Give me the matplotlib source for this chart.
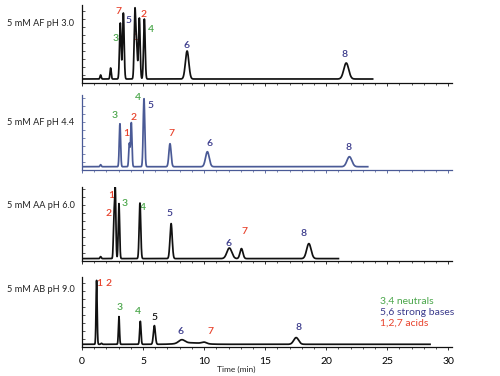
import numpy as np
import matplotlib.pyplot as plt
from matplotlib.ticker import MultipleLocator

# Peak data (time in min, height in px above baseline)
# 5 mM AF pH 3.0
t_ph30 = [1.53, 2.35, 3.14, 3.39, 4.34, 4.48, 4.70, 5.11, 8.61, 21.64]
h_ph30 = [4, 11, 56, 66, 69, 31, 61, 60, 28, 16]
w_ph30 = [0.05, 0.05, 0.065, 0.065, 0.065, 0.06, 0.065, 0.065, 0.14, 0.2]
# 5 mM AF pH 4.4
t_ph44 = [1.53, 3.11, 3.88, 4.04, 5.08, 7.21, 10.27, 21.9]
h_ph44 = [2, 43, 23, 44, 68, 23, 15, 10]
w_ph44 = [0.05, 0.055, 0.05, 0.055, 0.065, 0.09, 0.15, 0.2]
# 5 mM AA pH 6.0
t_ph60 = [1.53, 2.62, 2.73, 3.03, 4.75, 7.30, 12.07, 13.06, 18.58]
h_ph60 = [2, 40, 67.6, 55, 55.6, 35, 10.6, 10, 15]
w_ph60 = [0.05, 0.05, 0.05, 0.055, 0.065, 0.09, 0.2, 0.12, 0.18]
# 5 mM AB pH 9.0 (last entry: tailing hump after peak 6)
t_ph90 = [1.2, 1.6, 3.03, 4.78, 5.93, 8.17, 10.0, 17.54, 8.9]
h_ph90 = [64, 1, 27.7, 23, 18.7, 3.5, 1.5, 6.7, 1.5]
w_ph90 = [0.045, 0.05, 0.045, 0.055, 0.08, 0.25, 0.2, 0.2, 0.9]

t_end = [23.8, 23.4, 21.0, 28.5]
titles = ["5 mM AF pH 3.0", "5 mM AF pH 4.4", "5 mM AA pH 6.0", "5 mM AB pH 9.0"]

# peak number labels: (text, class, time, height above axis)
labels_ph30 = [("7", "a", 3.0, 72), ("5", "b", 3.8, 63), ("3", "n", 2.79, 45),
               ("1", "a", 4.34, 46), ("2", "a", 5.03, 69), ("4", "n", 5.66, 54),
               ("6", "b", 8.6, 38), ("8", "b", 21.5, 29)]
labels_ph44 = [("3", "n", 2.7, 55), ("1", "a", 3.66, 37), ("2", "a", 4.2, 52),
               ("4", "n", 4.56, 72), ("5", "b", 5.63, 65), ("7", "a", 7.3, 37),
               ("6", "b", 10.43, 27), ("8", "b", 21.86, 23)]
labels_ph60 = [("1", "a", 2.38, 66), ("2", "a", 2.16, 48), ("3", "n", 3.52, 57),
               ("4", "n", 4.97, 54), ("5", "b", 7.16, 48), ("6", "b", 11.97, 18),
               ("7", "a", 13.28, 29), ("8", "b", 18.17, 27)]
labels_ph90 = [("1", "a", 1.42, 63), ("2", "a", 2.21, 63), ("3", "n", 3.06, 39),
               ("4", "n", 4.62, 36), ("5", "k", 5.9, 29), ("6", "b", 8.06, 16),
               ("7", "a", 10.5, 16), ("8", "b", 17.73, 20)]

legend_lines = [("3,4 neutrals", "n"), ("5,6 strong bases", "b"), ("1,2,7 acids", "a")]

colors = {"a": "#e8432d", "b": "#3b3b8c", "n": "#4aa64a", "k": "#111111"}
trace_colors = ["#111111", "#4a5a96", "#111111", "#111111"]

# panel boxes in pixels: (top, bottom), baseline offset above the axis
W, H = 500, 376
boxes = [(5, 83.3), (95, 170), (187, 261), (277, 347)]
title_y = [24, 122, 205, 290]
base_off = [4.3, 3.3, 2.4, 2.7]
x_left, x_right = 81.7, 452
t_min, t_max = -0.02, 30.3

peaks = [(t_ph30, h_ph30, w_ph30), (t_ph44, h_ph44, w_ph44),
         (t_ph60, h_ph60, w_ph60), (t_ph90, h_ph90, w_ph90)]
labels = [labels_ph30, labels_ph44, labels_ph60, labels_ph90]

fig = plt.figure(figsize=(W / 100, H / 100), dpi=100)
plt.rcParams['font.family'] = ['Lato', 'DejaVu Sans']

for i in range(4):
    top, bot = boxes[i]
    ax = fig.add_axes([x_left / W, 1 - bot / H, (x_right - x_left) / W, (bot - top) / H])
    ax.set_xlim(t_min, t_max)
    ax.set_ylim(0, bot - top)

    tt = np.linspace(0, t_end[i], 4000)
    y = np.full_like(tt, base_off[i])
    for tp, hp, wp in zip(*peaks[i]):
        y += hp * np.exp(-0.5 * ((tt - tp) / wp) ** 2)
    ax.plot(tt, y, color=trace_colors[i], lw=1.25, zorder=3)

    for txt, cls, tx, ty in labels[i]:
        ax.text(tx, ty, txt, color=colors[cls], fontsize=7.5, ha="center", va="center",
                fontweight="semibold", zorder=2)

    for s in ["top", "right"]:
        ax.spines[s].set_visible(False)
    for s in ["left", "bottom"]:
        ax.spines[s].set_color(trace_colors[i])
        ax.spines[s].set_linewidth(0.9)
    ax.xaxis.set_major_locator(MultipleLocator(5))
    ax.xaxis.set_minor_locator(MultipleLocator(1))
    ax.yaxis.set_major_locator(MultipleLocator(8))
    ax.tick_params(axis="x", which="major", direction="out", length=2.5, width=0.6,
                   color=trace_colors[i], labelsize=7.5, pad=5)
    ax.tick_params(axis="x", which="minor", direction="out", length=1.5, width=0.5,
                   color=trace_colors[i])
    ax.tick_params(axis="y", direction="in", length=2, width=0.5, color=trace_colors[i],
                   labelleft=False)
    if i < 3:
        ax.tick_params(axis="x", labelbottom=False)
    ax.patch.set_alpha(0)

    fig.text(7 / W, 1 - title_y[i] / H, titles[i],
             fontsize=6.6, ha="left", va="center", color="#222222")

for k, (txt, cls) in enumerate(legend_lines):
    fig.text(380 / W, 1 - (301 + 11.3 * k) / H, txt, color=colors[cls], fontsize=7.5,
             ha="left", va="center")

fig.text(236 / W, 1 - 369 / H, "Time (min)", fontsize=6, ha="center", va="center",
         color="#222222")

fig.savefig("out.png", dpi=100)
